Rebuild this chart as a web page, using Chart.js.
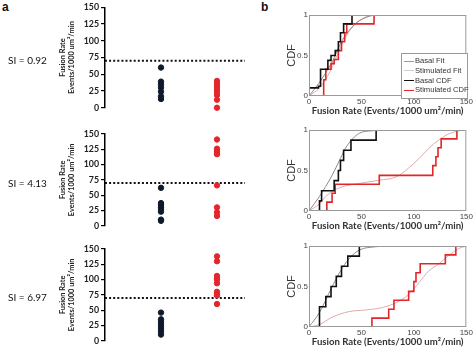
<!DOCTYPE html>
<html>
<head>
<meta charset="utf-8">
<script src="https://cdn.jsdelivr.net/npm/chart.js@4.4.0/dist/chart.umd.min.js"></script>
<style>
  body { margin: 0; background: #fff; width: 474px; height: 349px; overflow: hidden; position: relative; font-family: Lato, sans-serif; }
  canvas { position: absolute; }
  .tag { position: absolute; font: bold 12px "Liberation Sans", Arial, sans-serif; color: #111; }
  .si { position: absolute; left: 8px; font: 10px Lato, sans-serif; color: #111; line-height: 12px; }
  #legend { position: absolute; left: 401px; top: 53px; width: 65px; height: 42px; border: 1px solid #9a9a9a; background: #fff;
            font: 7.6px "Liberation Sans", Arial, sans-serif; color: #333; box-sizing: content-box; padding-top: 2px; }
  #legend div { height: 9.8px; line-height: 9.8px; white-space: nowrap; }
  #legend span { display: inline-block; width: 10px; height: 0; vertical-align: middle; margin: 0 1px 0 2px; }
</style>
</head>
<body>

<div class="tag" style="left:2px;top:0px">a</div>
<div class="tag" style="left:261px;top:0px">b</div>

<canvas id="dot1" width="250" height="115" style="left:0;top:0"></canvas>
<canvas id="dot2" width="250" height="118" style="left:0;top:115px"></canvas>
<canvas id="dot3" width="250" height="118" style="left:0;top:230px"></canvas>

<canvas id="cdf1" width="194" height="120" style="left:280px;top:0"></canvas>
<canvas id="cdf2" width="194" height="120" style="left:280px;top:115px"></canvas>
<canvas id="cdf3" width="194" height="120" style="left:280px;top:231px"></canvas>

<div id="legend"></div>

<script>
// ---- panel a: fusion rates per cell ----
var siLabels = ["SI = 0.92", "SI = 4.13", "SI = 6.97"];
var threshold = 70;

var basalRate1 = [60, 39, 35, 30, 24, 17, 13];
var stimRate1  = [40, 36, 32, 28, 24, 19, 12, 0];
var basalRate2 = [62, 37, 34, 30, 27, 23, 10, 8];
var stimRate2  = [141, 126, 122, 119, 117, 66, 30, 22, 16];
var basalRate3 = [46, 35, 31, 27, 23, 19, 15, 10];
var stimRate3  = [138, 130, 106, 103, 100, 94, 80, 77, 74, 60];

// ---- panel b: empirical CDF steps (rate, cumulative level) ----
var basalCdf1X = [0, 9, 11, 18, 21, 25, 28, 30, 33, 41];
var basalCdf1Y = [0.1, 0.12, 0.33, 0.44, 0.5, 0.56, 0.67, 0.78, 0.89, 1];
var stimCdf1X  = [14, 16, 21, 24, 28, 31, 34, 36, 62];
var stimCdf1Y  = [0.2, 0.33, 0.4, 0.45, 0.56, 0.67, 0.78, 0.89, 1];

var basalCdf2X = [10, 12, 24, 28, 30, 33, 40, 64];
var basalCdf2Y = [0.125, 0.25, 0.375, 0.5, 0.625, 0.75, 0.875, 1];
var stimCdf2X  = [17, 22, 25, 67, 118, 121, 123, 126, 141];
var stimCdf2Y  = [0.11, 0.22, 0.33, 0.44, 0.56, 0.67, 0.78, 0.89, 1];

var basalCdf3X = [10, 16, 21, 26, 31, 37, 48];
var basalCdf3Y = [0.25, 0.375, 0.5, 0.625, 0.75, 0.875, 1];
var stimCdf3X  = [60, 76, 81, 95, 100, 102, 106, 130, 140];
var stimCdf3Y  = [0.11, 0.22, 0.33, 0.44, 0.56, 0.67, 0.78, 0.89, 1];

// fitted curves, sampled
var basalFit1X = [0, 9, 22, 31, 41, 51, 65, 150];
var basalFit1Y = [0, 0.15, 0.42, 0.67, 0.85, 0.95, 1, 1];
var stimFit1X  = [0, 10, 20, 30, 40, 50, 65, 150];
var stimFit1Y  = [0, 0.1, 0.3, 0.6, 0.83, 0.95, 1, 1];

var basalFit2X = [0, 10, 22, 30, 35, 48, 60, 70, 150];
var basalFit2Y = [0, 0.18, 0.44, 0.65, 0.78, 0.96, 0.99, 1, 1];
var stimFit2X  = [0, 10, 16, 22, 32, 48, 67, 83, 95, 105, 114, 124, 133, 143, 150];
var stimFit2Y  = [0, 0.09, 0.18, 0.24, 0.3, 0.34, 0.38, 0.42, 0.53, 0.65, 0.77, 0.88, 0.95, 0.99, 1];

var basalFit3X = [0, 10, 21, 30, 38, 48, 63, 75, 150];
var basalFit3Y = [0, 0.18, 0.47, 0.69, 0.84, 0.95, 0.99, 1, 1];
var stimFit3X  = [0, 10, 22, 38, 54, 70, 83, 95, 105, 114, 124, 133, 143, 150];
var stimFit3Y  = [0, 0.03, 0.12, 0.19, 0.21, 0.24, 0.3, 0.4, 0.55, 0.69, 0.78, 0.88, 0.97, 1];

var seriesNames = ["Basal Fit", "Stimulated Fit", "Basal CDF", "Stimulated CDF"];
var seriesColors = ["#8c8c8c", "#e2aaaa", "#111111", "#e0262a"];
var legendColors = ["#9a9a9a", "#cfcfcf", "#111111", "#e0262a"];

var BASAL_DOT = "#0e1a2b";
var STIM_DOT = "#e3262b";

function dotChart(id, basal, stim, padTop, padBottom) {
  return new Chart(document.getElementById(id), {
    type: 'scatter',
    data: {
      datasets: [
        { data: basal.map(function (v) { return { x: 0, y: v }; }),
          backgroundColor: BASAL_DOT, borderColor: BASAL_DOT, pointRadius: 2.7, clip: false },
        { data: stim.map(function (v) { return { x: 1, y: v }; }),
          backgroundColor: STIM_DOT, borderColor: STIM_DOT, pointRadius: 2.7, clip: false },
        { type: 'line', data: [{ x: -1, y: threshold }, { x: 1.5, y: threshold }],
          borderColor: '#111', borderWidth: 2, borderDash: [2, 2.1], pointRadius: 0 }
      ]
    },
    options: {
      responsive: false,
      animation: false,
      layout: { padding: { left: 58, right: 4, top: padTop, bottom: padBottom } },
      plugins: { legend: { display: false }, tooltip: { enabled: false } },
      scales: {
        x: { type: 'linear', min: -1, max: 1.5, display: false },
        y: {
          min: 0, max: 150,
          ticks: { stepSize: 25, padding: 2, color: '#222', font: { family: 'Lato', size: 8.8, weight: 'bold' } },
          grid: { drawOnChartArea: false, drawTicks: true, tickLength: 4, color: '#000', lineWidth: 1.2 },
          border: { color: '#000', width: 1.5 },
          title: { display: true, text: ['Fusion Rate', 'Events/1000 um\u00b2/min'], color: '#222', padding: 0,
                   font: { family: 'Lato', size: 7.4, weight: 'bold', lineHeight: 1.2 } },
          afterFit: function (s) { s.width = 47; }
        }
      }
    }
  });
}

function pts(xs, ys) {
  return xs.map(function (x, i) { return { x: x, y: ys[i] }; });
}
function steps(xs, ys) {
  return [{ x: xs[0], y: 0 }].concat(pts(xs, ys));
}

var framePlugin = {
  id: 'frame',
  afterDatasetsDraw: function (chart) {
    var a = chart.chartArea, c = chart.ctx;
    c.save();
    c.strokeStyle = '#9a9a9a';
    c.lineWidth = 1;
    c.strokeRect(a.left + 0.5, a.top + 0.5, a.right - a.left - 1, a.bottom - a.top - 1);
    c.restore();
  }
};

function cdfChart(id, bfX, bfY, sfX, sfY, bX, bY, sX, sY) {
  var fitStyle = { borderWidth: 1, pointRadius: 0, cubicInterpolationMode: 'monotone', order: 1 };
  var cdfStyle = { borderWidth: 1.6, pointRadius: 0, stepped: 'before', order: 0 };
  return new Chart(document.getElementById(id), {
    type: 'line',
    data: {
      datasets: [
        Object.assign({ label: seriesNames[0], data: pts(bfX, bfY), borderColor: seriesColors[0] }, fitStyle),
        Object.assign({ label: seriesNames[1], data: pts(sfX, sfY), borderColor: seriesColors[1] }, fitStyle),
        Object.assign({ label: seriesNames[2], data: steps(bX, bY), borderColor: seriesColors[2] }, cdfStyle),
        Object.assign({ label: seriesNames[3], data: steps(sX, sY), borderColor: seriesColors[3] }, cdfStyle)
      ]
    },
    options: {
      responsive: false,
      animation: false,
      layout: { padding: { left: 0, right: 7, top: 15, bottom: 0 } },
      plugins: { legend: { display: false }, tooltip: { enabled: false } },
      scales: {
        x: {
          type: 'linear', min: 0, max: 150,
          ticks: { stepSize: 50, padding: 1, color: '#444', font: { family: 'Liberation Sans', size: 8 } },
          grid: { display: false, drawTicks: false }, border: { display: false },
          title: { display: true, text: 'Fusion Rate (Events/1000 um\u00b2/min)', color: '#333',
                   padding: { top: 0, bottom: 3 }, font: { family: 'Lato', size: 9.6, weight: 'bold', lineHeight: 1.2 } },
          afterFit: function (s) { s.height = 24; }
        },
        y: {
          min: 0, max: 1,
          ticks: { stepSize: 0.5, padding: 1, color: '#444', font: { family: 'Liberation Sans', size: 8 },
                   callback: function (v) { return String(v); } },
          grid: { display: false, drawTicks: false }, border: { display: false },
          title: { display: true, text: 'CDF', color: '#333', padding: { top: 6, bottom: 0 },
                   font: { family: 'Liberation Sans', size: 11, lineHeight: 1.1 } },
          afterFit: function (s) { s.width = 29; }
        }
      }
    },
    plugins: [framePlugin]
  });
}

dotChart('dot1', basalRate1, stimRate1, 5, 7);
dotChart('dot2', basalRate2, stimRate2, 19, 5);
dotChart('dot3', basalRate3, stimRate3, 19, 5);

cdfChart('cdf1', basalFit1X, basalFit1Y, stimFit1X, stimFit1Y, basalCdf1X, basalCdf1Y, stimCdf1X, stimCdf1Y);
cdfChart('cdf2', basalFit2X, basalFit2Y, stimFit2X, stimFit2Y, basalCdf2X, basalCdf2Y, stimCdf2X, stimCdf2Y);
cdfChart('cdf3', basalFit3X, basalFit3Y, stimFit3X, stimFit3Y, basalCdf3X, basalCdf3Y, stimCdf3X, stimCdf3Y);

// SI labels beside each dot panel
var siTops = [54, 177, 291];
siLabels.forEach(function (t, i) {
  var d = document.createElement('div');
  d.className = 'si';
  d.style.top = siTops[i] + 'px';
  d.textContent = t;
  document.body.appendChild(d);
});

// legend inside the first CDF panel
var legend = document.getElementById('legend');
seriesNames.forEach(function (name, i) {
  var row = document.createElement('div');
  var line = document.createElement('span');
  line.style.borderTop = (i < 2 ? 1 : 1.6) + 'px solid ' + legendColors[i];
  row.appendChild(line);
  row.appendChild(document.createTextNode(name));
  legend.appendChild(row);
});
</script>
</body>
</html>
